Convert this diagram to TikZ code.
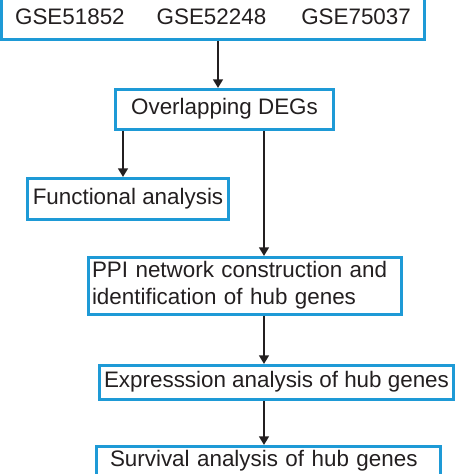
\documentclass[tikz,border=0pt]{standalone}
\usepackage{fontspec}
\setmainfont{Liberation Sans}
\usepackage{xcolor}
\usetikzlibrary{positioning,arrows.meta}
\definecolor{boxblue}{HTML}{1E9AD6}
\definecolor{inkdark}{HTML}{231F20}

\begin{document}
\begin{tikzpicture}[
  font=\fontsize{22.4pt}{27pt}\selectfont,
  box/.style={draw=boxblue, line width=3pt, fill=white, text=inkdark,
              text height=16pt, text depth=5pt, inner sep=0pt},
  arr/.style={-{Triangle[length=8.5pt,width=9.5pt]}, line width=2.2pt, draw=inkdark},
  ]
  \clip (0,0) rectangle (474pt,474pt);
  \node[box, minimum width=423pt, minimum height=40.5pt] (gse) at (213pt,454.75pt)
    {GSE51852\hspace{32pt}GSE52248\hspace{35pt}GSE75037};
  \node[box, minimum width=218pt, minimum height=40pt,
        below right=47pt and 114pt of gse.south west] (ovl) {Overlapping DEGs};
  \node[box, minimum width=201pt, minimum height=41pt,
        below right=46pt and -88pt of ovl.south west] (func) {Functional analysis};
  \node[box, text width=306pt, inner xsep=3.5pt, minimum height=57pt, align=left,
        text depth=32pt, below right=35pt and 61pt of func.south west] (ppi)
    {PPI network construction and\\identification of hub genes};
  \node[box, minimum width=354pt, minimum height=34pt,
        below right=48pt and 11pt of ppi.south west] (expr) {Expresssion analysis of hub genes};
  \node[box, text width=317pt, inner xsep=13.5pt, inner ysep=4.5pt, align=left,
        text depth=20pt, below right=44pt and -3pt of expr.south west] (surv)
    {Survival analysis of hub genes};

  \draw[arr] ([xshift=5pt]gse.south) -- ([xshift=5pt]gse.south |- ovl.north);
  \draw[arr] ([xshift=9pt]ovl.south west) -- ([xshift=9pt]ovl.south west |- func.north);
  \draw[arr] ([xshift=39.5pt]ovl.south) -- ([xshift=39.5pt]ovl.south |- ppi.north);
  \draw[arr] ([xshift=19pt]ppi.south) -- ([xshift=19pt]ppi.south |- expr.north);
  \draw[arr] ([xshift=-12.5pt]expr.south) -- ([xshift=-12.5pt]expr.south |- surv.north);
\end{tikzpicture}
\end{document}
